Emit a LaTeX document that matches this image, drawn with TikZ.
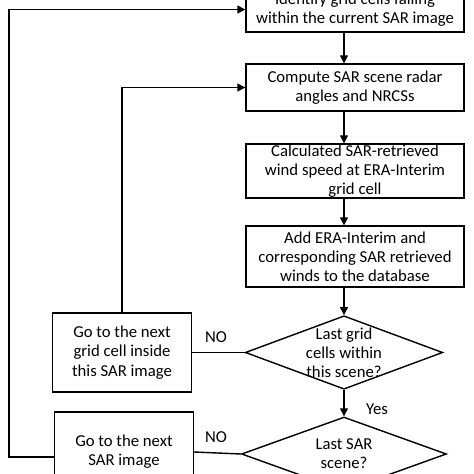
\documentclass[tikz,border=0pt]{standalone}
\usepackage{fontspec}
\setmainfont{Carlito}
\usetikzlibrary{shapes.geometric,arrows.meta}

\begin{document}
\begin{tikzpicture}[x=0.02cm, y=-0.02cm,
  font=\fontsize{9.5}{10.9}\selectfont, line width=0.8pt,
  box/.style={draw, minimum width=4.36cm, inner sep=0pt, align=center},
  side/.style={draw, minimum width=2.78cm, minimum height=1.58cm,
               inner sep=0pt, align=center},
  dec/.style={draw, diamond, inner sep=0pt, minimum width=3.95cm,
              minimum height=1.47cm},
  arr/.style={-{Triangle[length=4.5pt,width=4.5pt]}}
]
\useasboundingbox (0,0) rectangle (474,474);
\clip (0,0) rectangle (474,474);
% main column
\node[box, minimum height=0.9cm]  (ident) at (355, 9.5) {Identify grid cells falling\\within the current SAR image};
\node[box, minimum height=0.94cm] (comp)  at (355, 87.5) {Compute SAR scene radar\\angles and NRCSs};
\node[box, minimum height=1.08cm] (calc)  at (355, 171) {Calculated SAR-retrieved\\wind speed at ERA-Interim\\grid cell};
\node[box, minimum height=1.22cm] (add)   at (355, 256.5) {Add ERA-Interim and\\corresponding SAR retrieved\\winds to the database};
\node[dec] (lastcell) at (344, 352.5) {};
\node[align=center] (lastcelltxt) at (lastcell) {Last grid\\cells within\\this scene?};
\node[dec, minimum width=4.1cm, minimum height=1.48cm] (lastscene) at (344, 454) {};
\node[align=center] (lastscenetxt) at (lastscene) {Last SAR\\scene?};
% side boxes
\node[side] (nextcell)  at (122, 352.5) {Go to the next\\grid cell inside\\this SAR image};
\node[side, minimum height=1.6cm] (nextscene) at (124, 452) {Go to the next\\SAR image};
\coordinate (back) at (9, 457);
% labels
\node (no1) at (216, 337) {NO};
\node (no2) at (216, 437) {NO};
\node (yes) at (377, 409) {Yes};
% connectors
\draw[arr] (ident.south -| lastcell.north) -- (comp.north -| lastcell.north);
\draw[arr] (comp.south -| lastcell.north) -- (calc.north -| lastcell.north);
\draw[arr] (calc.south -| lastcell.north) -- (add.north -| lastcell.north);
\draw[arr] (add.south -| lastcell.north) -- (lastcell.north);
\draw[arr] (lastcell.south) -- (lastscene.north);
\draw (lastcell.west) -- (nextcell.east);
\draw (lastscene.west) -- (nextscene.east);
\draw[arr] (nextcell.north) |- (comp.west);
\draw[arr] (nextscene.west |- back) -- (back) |- (ident.west);
\end{tikzpicture}
\end{document}
